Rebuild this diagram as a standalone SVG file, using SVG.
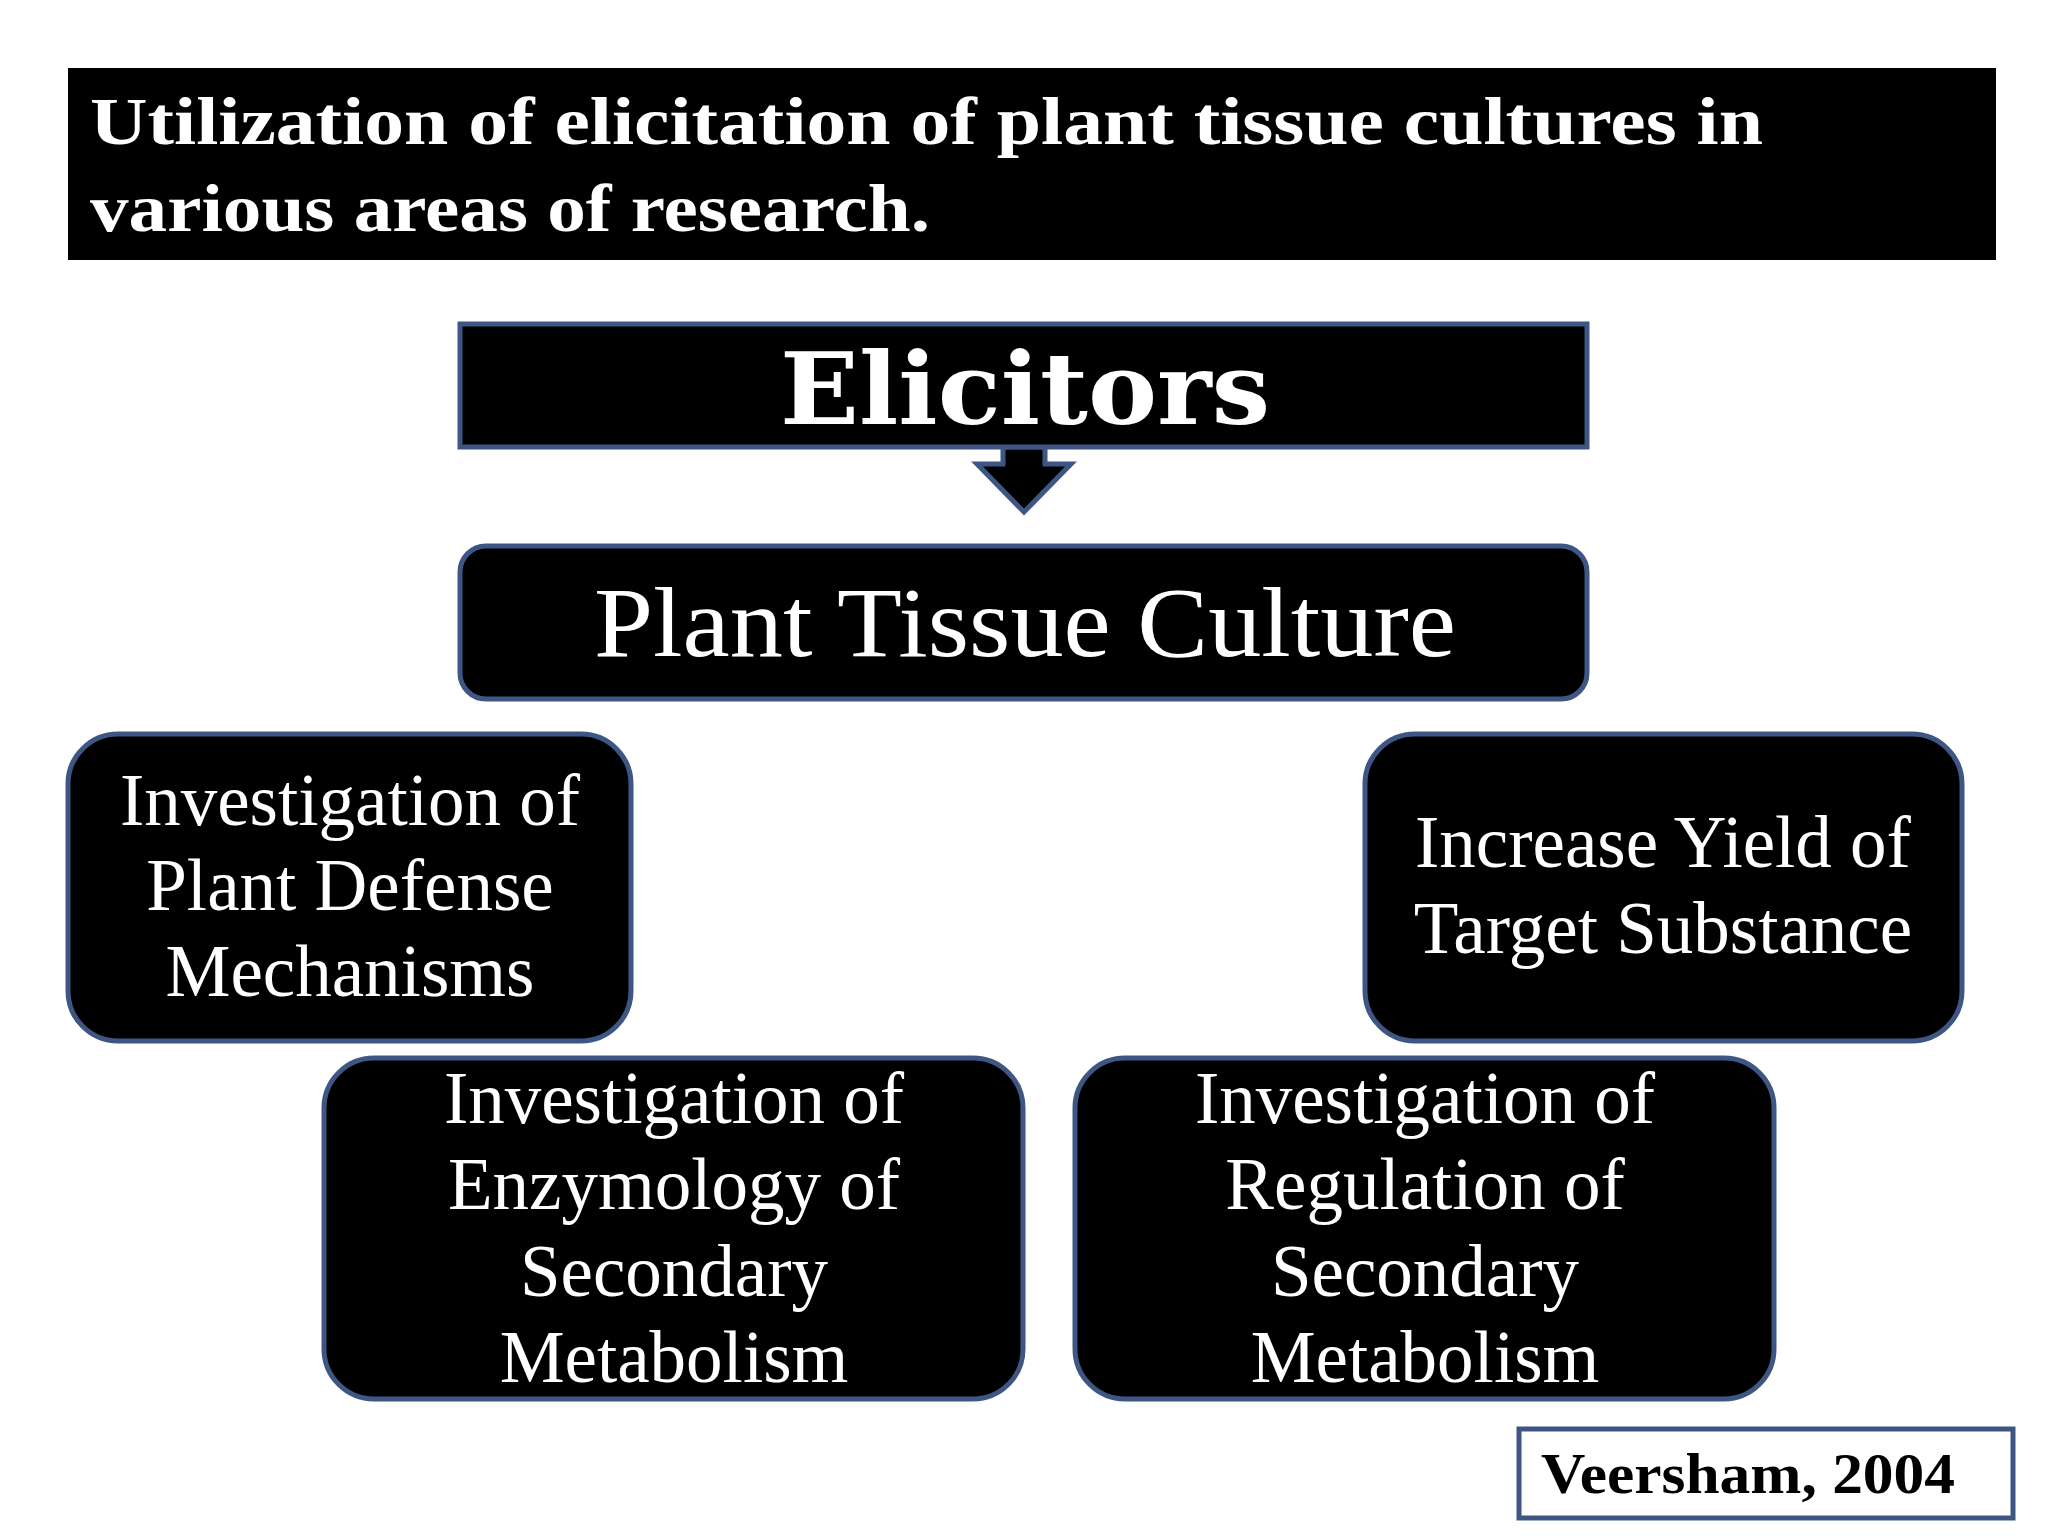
<svg xmlns="http://www.w3.org/2000/svg" width="2048" height="1536" viewBox="0 0 2048 1536">
<style>
.b{fill:#000;stroke:#3d5683;stroke-width:5}
.t{font-family:"Liberation Serif","DejaVu Serif",serif;fill:#fff;text-anchor:middle;font-size:73px}
</style>
<rect width="2048" height="1536" fill="#fff"/>
<g id="title"><rect x="68" y="68" width="1928" height="192" fill="#000"/>
<text x="90" y="144" font-family="Liberation Serif,serif" font-weight="bold" font-size="68" fill="#fff" textLength="1673" lengthAdjust="spacingAndGlyphs">Utilization of elicitation of plant tissue cultures in</text>
<text x="90" y="231" font-family="Liberation Serif,serif" font-weight="bold" font-size="68" fill="#fff" textLength="840" lengthAdjust="spacingAndGlyphs">various areas of research.</text></g>
<g id="connectors"><path class="b" d="M1003 447 V464 H977 L1024 512 L1071 464 H1045 V447 Z"/></g>
<g id="elicitors"><rect class="b" x="460" y="324" width="1127" height="123"/>
<text x="1025" y="424" style="font-family:'DejaVu Serif',serif;font-weight:bold;font-size:100px;fill:#fff;text-anchor:middle" textLength="490" lengthAdjust="spacingAndGlyphs">Elicitors</text></g>
<g id="ptc"><rect class="b" x="460" y="546" width="1127" height="153" rx="26"/>
<text class="t" x="1025" y="656" style="font-size:100px" textLength="862" lengthAdjust="spacingAndGlyphs">Plant Tissue Culture</text></g>
<g id="defense"><rect class="b" x="68" y="734" width="563" height="307" rx="50"/>
<text class="t" x="350" y="825">Investigation of</text><text class="t" x="350" y="910">Plant Defense</text><text class="t" x="350" y="996">Mechanisms</text></g>
<g id="yield"><rect class="b" x="1365" y="734" width="597" height="307" rx="50"/>
<text class="t" x="1663" y="867">Increase Yield of</text><text class="t" x="1663" y="953">Target Substance</text></g>
<g id="enzymology"><rect class="b" x="324" y="1058" width="699" height="341" rx="50"/>
<text class="t" x="674" y="1123">Investigation of</text><text class="t" x="674" y="1209">Enzymology of</text><text class="t" x="674" y="1296">Secondary</text><text class="t" x="674" y="1382">Metabolism</text></g>
<g id="regulation"><rect class="b" x="1075" y="1058" width="699" height="341" rx="50"/>
<text class="t" x="1425" y="1123">Investigation of</text><text class="t" x="1425" y="1209">Regulation of</text><text class="t" x="1425" y="1296">Secondary</text><text class="t" x="1425" y="1382">Metabolism</text></g>
<g id="citation"><rect x="1519" y="1429" width="494" height="89" fill="#fff" stroke="#3d5683" stroke-width="5"/>
<text x="1748" y="1493" font-family="Liberation Serif,serif" font-weight="bold" font-size="56" text-anchor="middle" textLength="414" lengthAdjust="spacingAndGlyphs">Veersham, 2004</text></g>
</svg>
